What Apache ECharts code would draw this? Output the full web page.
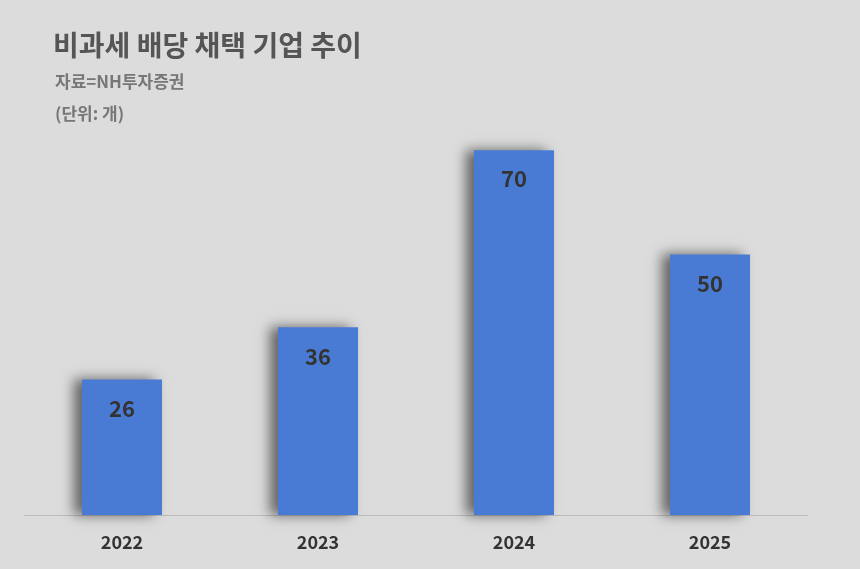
<!DOCTYPE html>
<html><head><meta charset="utf-8">
<script src="https://cdn.jsdelivr.net/npm/echarts@6/dist/echarts.min.js"></script>
<style>html,body{margin:0;padding:0;background:#dcdcdc}#c{width:860px;height:569px}</style>
</head><body><div id="c"></div>
<script>
const categories = ['2022','2023','2024','2025'];
const values = [26, 36, 70, 50];
const chart = echarts.init(document.getElementById('c'));
const font = "'Noto Sans CJK KR', 'Noto Sans', sans-serif";
chart.setOption({
  backgroundColor: '#dcdcdc',
  title: [
    {text: '비과세 배당 채택 기업 추이', left: 48, top: 26, textStyle: {fontFamily: font, fontSize: 28, fontWeight: 'bold', color: '#555'}},
    {text: '자료=NH투자증권', left: 50, top: 68, textStyle: {fontFamily: font, fontSize: 17, fontWeight: 'bold', color: '#777'}},
    {text: '(단위: 개)', left: 50, top: 100, textStyle: {fontFamily: font, fontSize: 17, fontWeight: 'bold', color: '#777'}}
  ],
  grid: {left: 24, right: 52, top: 98, bottom: 54},
  xAxis: {type: 'category', data: categories,
    axisLine: {lineStyle: {color: '#bbb'}}, axisTick: {show: false},
    axisLabel: {fontFamily: font, fontSize: 18, fontWeight: 'bold', color: '#333', margin: 18}},
  yAxis: {type: 'value', min: 0, max: 80, show: false},
  series: [{type: 'bar', data: values, barWidth: 80,
    itemStyle: {color: '#4a7bd4', shadowColor: 'rgba(0,0,0,0.55)', shadowBlur: 12, shadowOffsetX: -8, shadowOffsetY: 0},
    label: {show: true, position: 'insideTop', distance: 18, fontFamily: font, fontSize: 22, fontWeight: 'bold', color: '#333'}
  }]
});
</script></body></html>
